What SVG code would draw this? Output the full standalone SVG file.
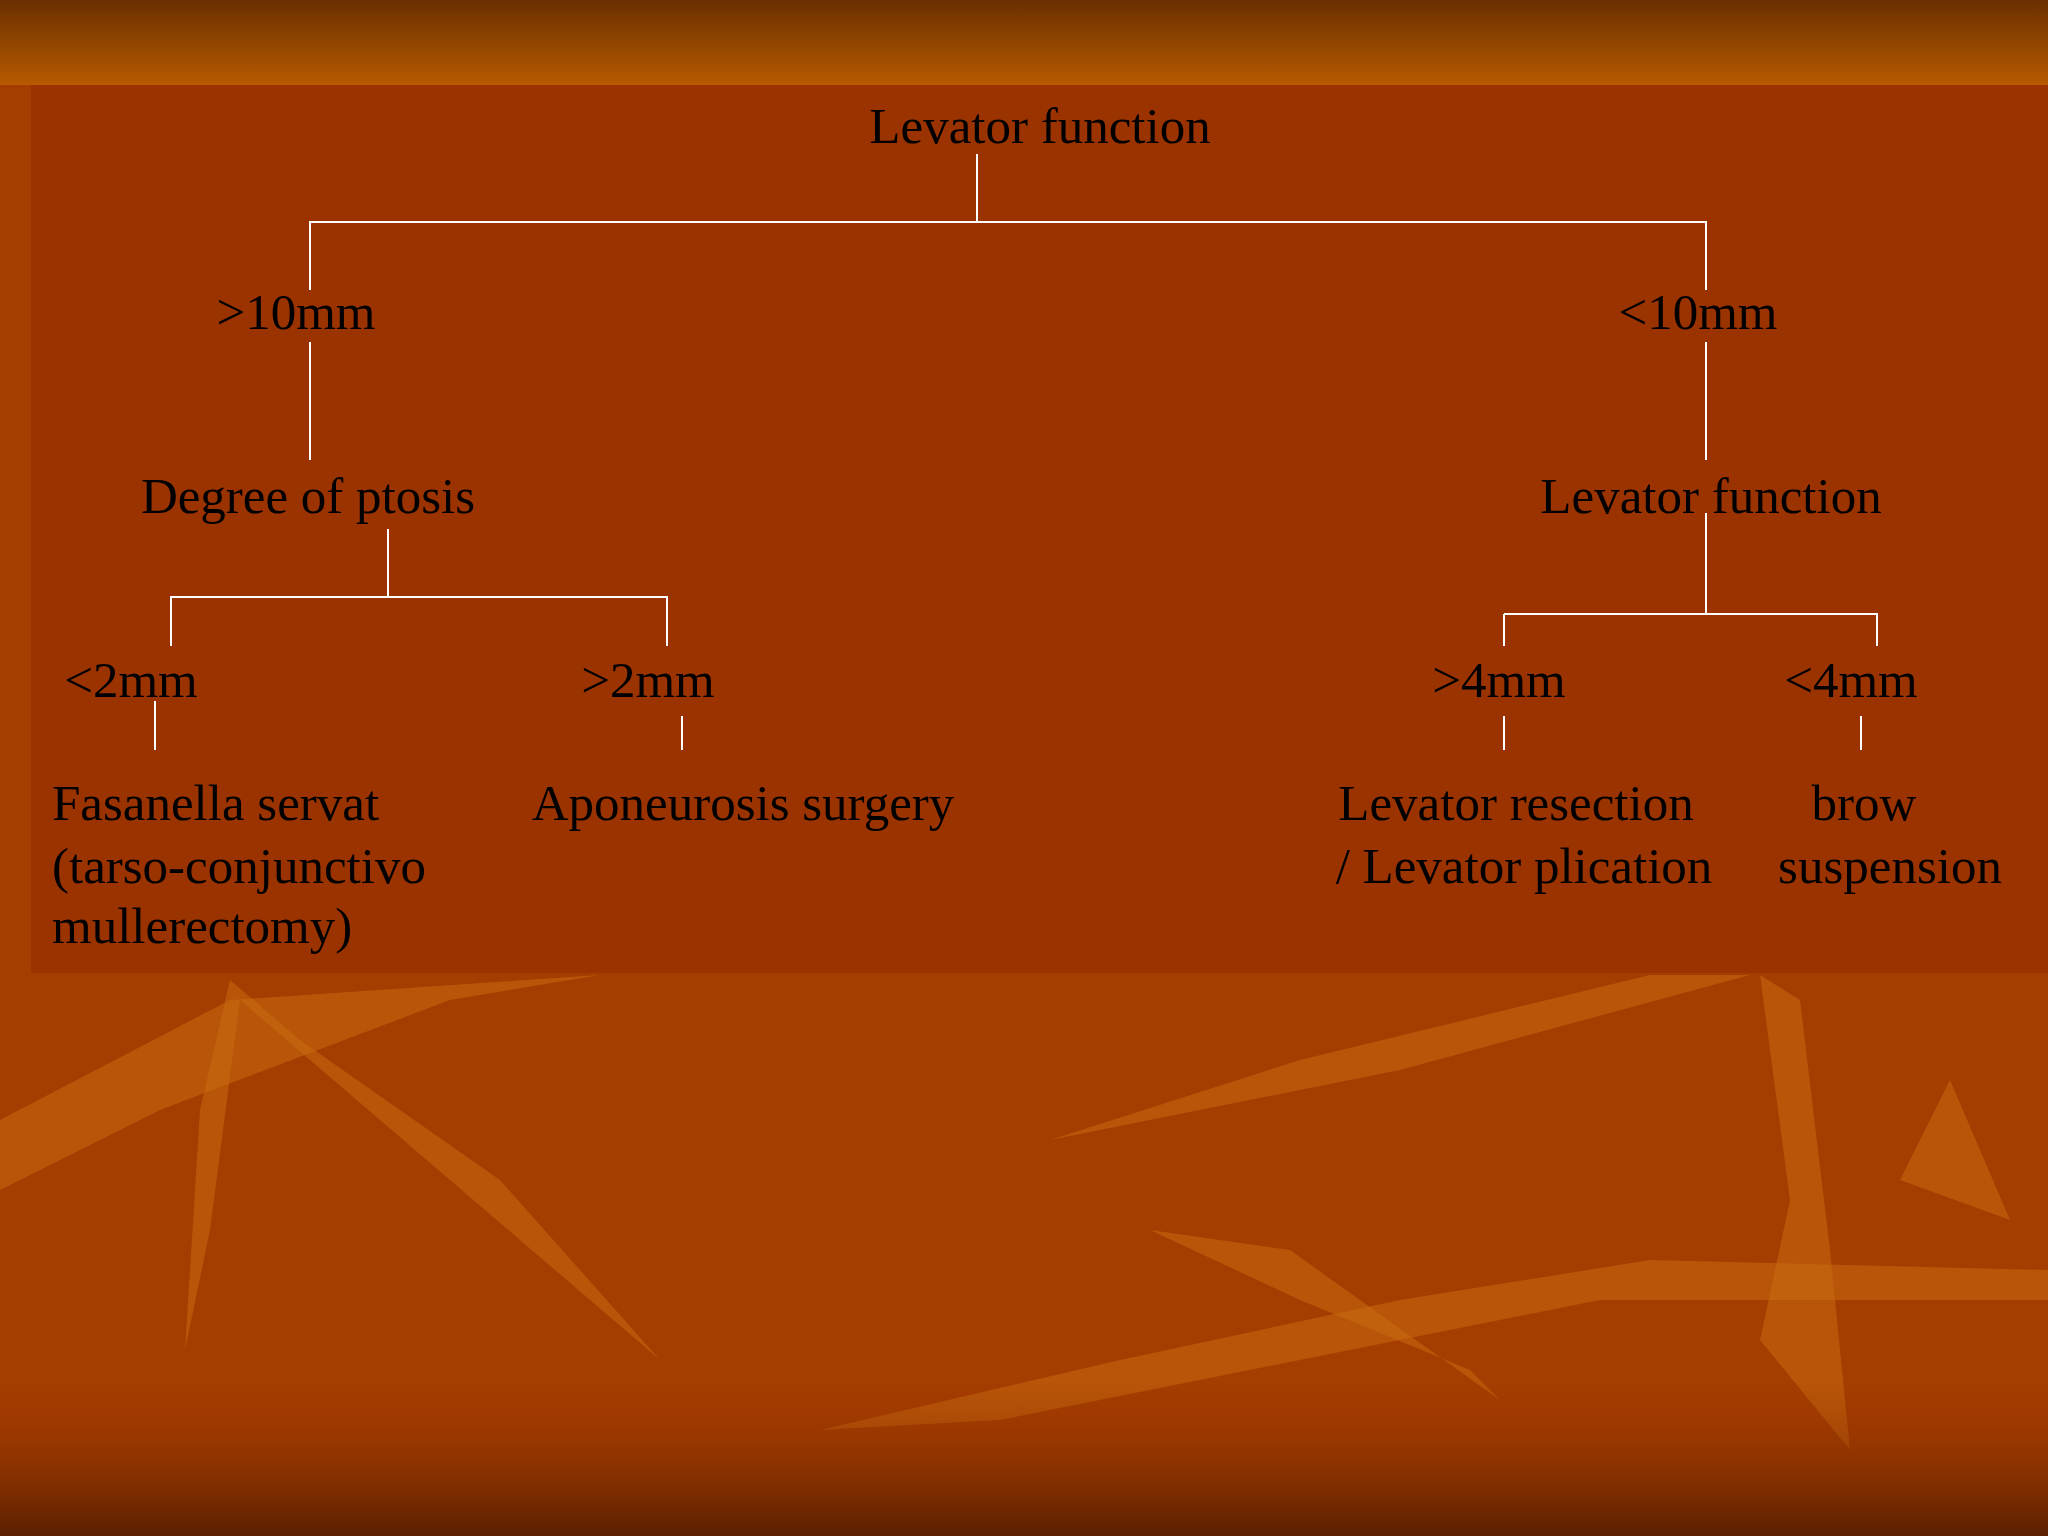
<svg xmlns="http://www.w3.org/2000/svg" width="2048" height="1536" viewBox="0 0 2048 1536">
<defs>
<linearGradient id="top" x1="0" y1="0" x2="0" y2="1"><stop offset="0" stop-color="#6A3000"/><stop offset="1" stop-color="#B85A00"/></linearGradient>
<linearGradient id="bot" x1="0" y1="0" x2="0" y2="1"><stop offset="0" stop-color="#9A3600" stop-opacity="0"/><stop offset="1" stop-color="#5A2000"/></linearGradient>
<style>
text{font-family:"Liberation Serif","Times New Roman",serif;font-size:51px;fill:#000}
.c{text-anchor:middle}
line{stroke:#fff;stroke-width:2}
.d{fill:#C86A10;opacity:0.55}
</style>
</defs>
<rect width="2048" height="1536" fill="#A53C00"/>
<g id="decor">
<polygon class="d" points="230,980 200,1110 185,1350 210,1230 240,1000 380,1120 660,1360 500,1180 300,1040"/>
<polygon class="d" points="0,1120 230,1000 600,975 450,1000 160,1110 0,1190"/>
<polygon class="d" points="1150,1230 1300,1300 1470,1370 1500,1400 1290,1250"/>
<polygon class="d" points="820,1430 1120,1360 1400,1300 1650,1260 2048,1270 2048,1300 1600,1300 1300,1360 1000,1420"/>
<polygon class="d" points="1760,975 1790,1200 1760,1340 1850,1450 1830,1250 1800,1000"/>
<polygon class="d" points="1050,1140 1400,1070 1750,975 1650,975 1300,1060"/>
<polygon class="d" points="1950,1080 2010,1220 1900,1180"/>
</g>
<rect width="2048" height="85" fill="url(#top)"/>
<rect y="1380" width="2048" height="156" fill="url(#bot)"/>
<rect x="31" y="85" width="2017" height="888" fill="#9A3300"/>
<g id="connectors">
<line x1="977" y1="154" x2="977" y2="222"/>
<line x1="309" y1="222" x2="1707" y2="222"/>
<line x1="310" y1="222" x2="310" y2="290"/>
<line x1="1706" y1="222" x2="1706" y2="290"/>
<line x1="310" y1="342" x2="310" y2="460"/>
<line x1="1706" y1="342" x2="1706" y2="460"/>
<line x1="388" y1="529" x2="388" y2="597"/>
<line x1="170" y1="597" x2="668" y2="597"/>
<line x1="171" y1="597" x2="171" y2="646"/>
<line x1="667" y1="597" x2="667" y2="646"/>
<line x1="155" y1="701" x2="155" y2="750"/>
<line x1="682" y1="716" x2="682" y2="750"/>
<line x1="1706" y1="513" x2="1706" y2="614"/>
<line x1="1504" y1="614" x2="1878" y2="614"/>
<line x1="1504" y1="614" x2="1504" y2="646"/>
<line x1="1877" y1="614" x2="1877" y2="646"/>
<line x1="1504" y1="716" x2="1504" y2="750"/>
<line x1="1861" y1="716" x2="1861" y2="750"/>
</g>
<g id="n1"><text class="c" x="1040" y="143">Levator function</text></g>
<g id="n2"><text class="c" x="296" y="329">&gt;10mm</text></g>
<g id="n3"><text class="c" x="1698" y="329">&lt;10mm</text></g>
<g id="n4"><text class="c" x="308" y="513">Degree of ptosis</text></g>
<g id="n5"><text class="c" x="1711" y="513">Levator function</text></g>
<g id="n6"><text class="c" x="131" y="697">&lt;2mm</text></g>
<g id="n7"><text class="c" x="648" y="697">&gt;2mm</text></g>
<g id="n8"><text class="c" x="1499" y="697">&gt;4mm</text></g>
<g id="n9"><text class="c" x="1851" y="697">&lt;4mm</text></g>
<g id="n10"><text x="52" y="820">Fasanella servat</text><text x="52" y="883">(tarso-conjunctivo</text><text x="52" y="943">mullerectomy)</text></g>
<g id="n11"><text class="c" x="743" y="820">Aponeurosis surgery</text></g>
<g id="n12"><text class="c" x="1516" y="820">Levator resection</text><text class="c" x="1524" y="883">/ Levator plication</text></g>
<g id="n13"><text class="c" x="1864" y="820">brow</text><text class="c" x="1890" y="883">suspension</text></g>
</svg>
